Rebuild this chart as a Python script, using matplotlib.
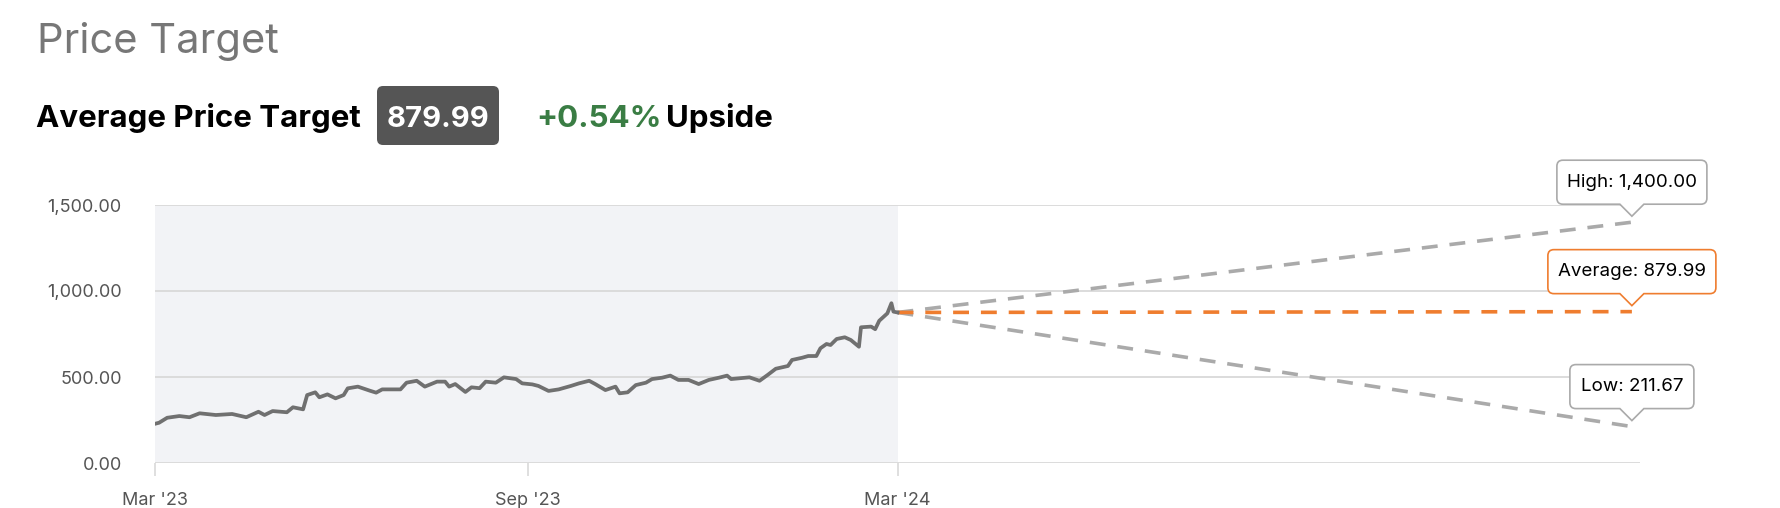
import numpy as np
import matplotlib
matplotlib.use("Agg")
import matplotlib.pyplot as plt
import matplotlib.transforms as mtransforms
from matplotlib.patches import FancyBboxPatch, PathPatch
from matplotlib.path import Path

plt.rcParams['font.family'] = ['Inter', 'DejaVu Sans']

# ---- data ----
price_dates = ["2023-03-08", "2023-03-10", "2023-03-14", "2023-03-20", "2023-03-25", "2023-03-30",
               "2023-04-07", "2023-04-15", "2023-04-22", "2023-04-28", "2023-05-01", "2023-05-05",
               "2023-05-12", "2023-05-15", "2023-05-20", "2023-05-22", "2023-05-26", "2023-05-28",
               "2023-06-01", "2023-06-05", "2023-06-09", "2023-06-11", "2023-06-16", "2023-06-22",
               "2023-06-25", "2023-06-28", "2023-07-07", "2023-07-10", "2023-07-15", "2023-07-19",
               "2023-07-25", "2023-07-29", "2023-07-31", "2023-08-03", "2023-08-08", "2023-08-11",
               "2023-08-15", "2023-08-18", "2023-08-23", "2023-08-27", "2023-09-02", "2023-09-05",
               "2023-09-10", "2023-09-13", "2023-09-18", "2023-09-23", "2023-09-29", "2023-10-03",
               "2023-10-08", "2023-10-11", "2023-10-16", "2023-10-21", "2023-10-23", "2023-10-27",
               "2023-10-31", "2023-11-05", "2023-11-08", "2023-11-13", "2023-11-17", "2023-11-21",
               "2023-11-26", "2023-12-01", "2023-12-06", "2023-12-11", "2023-12-15", "2023-12-17",
               "2023-12-26", "2023-12-31", "2024-01-04", "2024-01-08", "2024-01-14", "2024-01-16",
               "2024-01-21", "2024-01-24", "2024-01-28", "2024-01-30", "2024-02-02", "2024-02-04",
               "2024-02-07", "2024-02-11", "2024-02-14", "2024-02-18", "2024-02-19", "2024-02-24",
               "2024-02-26", "2024-02-28", "2024-03-03", "2024-03-05", "2024-03-06", "2024-03-08"]
price_values = [228, 234, 263, 273, 266, 289, 279, 285, 266, 298, 279, 302,
                295, 324, 312, 395, 411, 382, 399, 376, 395, 434, 444, 420,
                409, 428, 428, 467, 478, 444, 473, 473, 444, 459, 413, 440,
                435, 473, 467, 498, 488, 463, 457, 448, 419, 428, 448, 463,
                478, 459, 424, 444, 405, 411, 453, 467, 488, 496, 508, 483,
                483, 459, 483, 496, 508, 488, 498, 478, 512, 548, 564, 599,
                612, 622, 622, 667, 692, 686, 721, 731, 715, 676, 789, 793,
                778, 827, 870, 929, 880, 875.28]

target_date = "2025-03-05"
target_high = 1400.00
target_avg = 879.99
target_low = 211.67
upside_pct = 0.54

xtick_dates = ["2023-03-08", "2023-09-08", "2024-03-08"]
xtick_labels = ["Mar '23", "Sep '23", "Mar '24"]
yticks = [0, 500, 1000, 1500]

px = np.array(price_dates, dtype="datetime64[D]")
py = np.array(price_values)
tdate = np.datetime64(target_date)

W, H = 1780, 508
fig = plt.figure(figsize=(W / 100, H / 100), dpi=100)
fig.patch.set_facecolor("white")

# axes placed in pixels: left 155, right 1640, top 205, bottom 463
ax = fig.add_axes([155 / W, (H - 463) / H, (1640 - 155) / W, (463 - 205) / H])
ax.set_facecolor("white")

grid_c = "#d9d9d9"
ax.axvspan(px[0], px[-1], color="#f2f3f6", zorder=0, lw=0)
for v in yticks:
    ax.axhline(v, color=grid_c, lw=1.3, zorder=1)

ax.plot(px, py, color="#707070", lw=2.7, zorder=4, solid_joinstyle="round")

dash = (0, (4.4, 3.3))
ax.plot([px[-1], tdate], [py[-1], target_high], color="#aaaaaa", lw=2.6, ls=dash, zorder=3)
ax.plot([px[-1], tdate], [py[-1], target_low], color="#aaaaaa", lw=2.6, ls=dash, zorder=3)
ax.plot([px[-1], tdate], [py[-1], target_avg], color="#ef7d2f", lw=2.6, ls=dash, zorder=3)

ax.set_xlim(px[0], np.datetime64("2025-03-09"))
ax.set_ylim(0, 1500)
for s in ax.spines.values():
    s.set_visible(False)

ax.set_yticks(yticks)
ax.set_yticklabels([f"{v:,.2f}" for v in yticks])
ax.set_xticks(np.array(xtick_dates, dtype="datetime64[D]"))
ax.set_xticklabels(xtick_labels)
ax.tick_params(axis="y", length=0, pad=24, labelsize=13, labelcolor="#555555")
ax.tick_params(axis="x", length=9, width=1.2, color=grid_c, pad=12,
               labelsize=13, labelcolor="#555555")


def callout(xd, yd, w, h, label, edge):
    # balloon with a small pointer, sized in pixels, anchored on a data point
    gap, nh, nw, r = 6, 12, 12, 6
    y0 = gap + nh
    y1 = y0 + h
    x0, x1 = -w / 2, w / 2
    verts = [(0, gap), (nw, y0), (x1 - r, y0), (x1, y0), (x1, y0 + r), (x1, y1 - r),
             (x1, y1), (x1 - r, y1), (x0 + r, y1), (x0, y1), (x0, y1 - r), (x0, y0 + r),
             (x0, y0), (x0 + r, y0), (-nw, y0), (0, gap)]
    codes = [Path.MOVETO, Path.LINETO, Path.LINETO, Path.CURVE3, Path.CURVE3, Path.LINETO,
             Path.CURVE3, Path.CURVE3, Path.LINETO, Path.CURVE3, Path.CURVE3, Path.LINETO,
             Path.CURVE3, Path.CURVE3, Path.LINETO, Path.CLOSEPOLY]
    verts = [(a / 100, b / 100) for a, b in verts]
    trans = fig.dpi_scale_trans + mtransforms.ScaledTranslation(xd, yd, ax.transData)
    patch = PathPatch(Path(verts, codes), facecolor="white", edgecolor=edge, lw=1.2,
                      transform=trans, clip_on=False, zorder=6)
    ax.add_patch(patch)
    ax.text(0, (y0 + h / 2) / 100, label, transform=trans, ha="center", va="center",
            fontsize=13.5, color="black", zorder=7, clip_on=False)


xt = matplotlib.dates.date2num(tdate)
callout(xt, target_high, 150, 44, f"High: {target_high:,.2f}", "#aaaaaa")
callout(xt, target_avg, 168, 44, f"Average: {target_avg:,.2f}", "#ef7d2f")
callout(xt, target_low, 124, 44, f"Low: {target_low:,.2f}", "#aaaaaa")

# ---- header ----
pix = mtransforms.IdentityTransform()
fig.text(37, H - 53, "Price Target", transform=pix, fontsize=30, color="#777777", va="baseline")
fig.text(36, H - 127, "Average Price Target", transform=pix, fontsize=22.5, fontweight="bold",
         color="black", va="baseline")
box = FancyBboxPatch((377 + 6, H - 145 + 6), 122 - 12, 59 - 12, boxstyle="round,pad=6",
                     transform=pix, facecolor="#555555", edgecolor="none")
fig.patches.append(box)
fig.text(438, H - 127, f"{target_avg:,.2f}", transform=pix, fontsize=21, fontweight="bold",
         color="white", ha="center", va="baseline")
fig.text(536, H - 127, f"+{upside_pct:.2f}%", transform=pix, fontsize=22.5, fontweight="bold",
         color="#3a7d44", va="baseline")
fig.text(666, H - 127, "Upside", transform=pix, fontsize=22.5, fontweight="bold",
         color="black", va="baseline")

fig.savefig("out.png", dpi=100, facecolor="white")
